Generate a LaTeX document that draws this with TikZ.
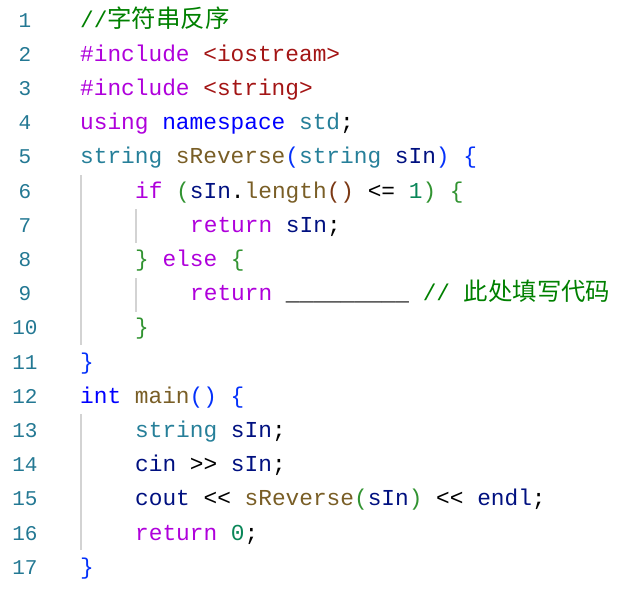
\documentclass[tikz,border=0pt]{standalone}
\usepackage{fontspec}
\setmainfont{Liberation Mono}
\newfontfamily\cjkf{Noto Sans CJK SC}
\definecolor{ckw}{HTML}{AF00DB}
\definecolor{cblue}{HTML}{0000FF}
\definecolor{ctyp}{HTML}{267F99}
\definecolor{cfn}{HTML}{795E26}
\definecolor{cvar}{HTML}{001080}
\definecolor{cstr}{HTML}{A31515}
\definecolor{ccom}{HTML}{008000}
\definecolor{cnum}{HTML}{098658}
\definecolor{cbA}{HTML}{0431FA}
\definecolor{cbB}{HTML}{319331}
\definecolor{cbC}{HTML}{7B3814}
\definecolor{cln}{HTML}{237893}
\definecolor{cguide}{HTML}{D3D3D3}
\newcommand\Kw[1]{\textcolor{ckw}{#1}}
\newcommand\Bl[1]{\textcolor{cblue}{#1}}
\newcommand\Ty[1]{\textcolor{ctyp}{#1}}
\newcommand\Fn[1]{\textcolor{cfn}{#1}}
\newcommand\Va[1]{\textcolor{cvar}{#1}}
\newcommand\St[1]{\textcolor{cstr}{#1}}
\newcommand\Cm[1]{\textcolor{ccom}{#1}}
\newcommand\Nm[1]{\textcolor{cnum}{#1}}
\newcommand\BA[1]{\textcolor{cbA}{#1}}
\newcommand\BB[1]{\textcolor{cbB}{#1}}
\newcommand\BC[1]{\textcolor{cbC}{#1}}
\newcommand\CJ[1]{{\cjkf\fontsize{24.4}{26}\selectfont #1}}
\begin{document}
\begin{tikzpicture}[x=1pt,y=-1pt,
  code/.style={anchor=base west,inner sep=0pt,font=\fontsize{22.8}{26}\selectfont},
  lnum/.style={anchor=base,inner sep=0pt,text=cln,font=\fontsize{21}{26}\selectfont},
  guide/.style={draw=cguide,line width=1.6pt}]
\useasboundingbox (0,0) rectangle (636,589);
\foreach \n in {1,...,17}{
  \node[lnum] (n\n) at (25,{27+34.2*(\n-1)}) {\n};
}
\def\Y#1{{27+34.2*(#1-1)}}
\node[code] (l1) at (80,\Y1) {\Cm{//\CJ{字符串反序}}};
\node[code] (l2) at (80,\Y2) {\Kw{\#include} \St{<iostream>}};
\node[code] (l3) at (80,\Y3) {\Kw{\#include} \St{<string>}};
\node[code] (l4) at (80,\Y4) {\Kw{using} \Bl{namespace} \Ty{std};};
\node[code] (l5) at (80,\Y5) {\Ty{string} \Fn{sReverse}\BA{(}\Ty{string} \Va{sIn}\BA{)} \BA{\{}};
\node[code] (l6) at (135,\Y6) {\Kw{if} \BB{(}\Va{sIn}.\Fn{length}\BC{()} <= \Nm{1}\BB{)} \BB{\{}};
\node[code] (l7) at (190,\Y7) {\Kw{return} \Va{sIn};};
\node[code] (l8) at (135,\Y8) {\BB{\}} \Kw{else} \BB{\{}};
\node[code] (l9) at (190,\Y9) {\Kw{return} \_\_\_\_\_\_\_\_\_ \Cm{// \CJ{此处填写代码}}};
\node[code] (l10) at (135,\Y{10}) {\BB{\}}};
\node[code] (l11) at (80,\Y{11}) {\BA{\}}};
\node[code] (l12) at (80,\Y{12}) {\Bl{int} \Fn{main}\BA{()} \BA{\{}};
\node[code] (l13) at (135,\Y{13}) {\Ty{string} \Va{sIn};};
\node[code] (l14) at (135,\Y{14}) {\Va{cin} >{}> \Va{sIn};};
\node[code] (l15) at (135,\Y{15}) {\Va{cout} <{}< \Fn{sReverse}\BB{(}\Va{sIn}\BB{)} <{}< \Va{endl};};
\node[code] (l16) at (135,\Y{16}) {\Kw{return} \Nm{0};};
\node[code] (l17) at (80,\Y{17}) {\BA{\}}};
\coordinate (g1a) at (81,175); \coordinate (g1b) at (81,345);
\coordinate (g2a) at (136,209); \coordinate (g2b) at (136,243);
\coordinate (g3a) at (136,278); \coordinate (g3b) at (136,312);
\coordinate (g4a) at (81,414); \coordinate (g4b) at (81,550);
\draw[guide] (g1a) -- (g1b);
\draw[guide] (g2a) -- (g2b);
\draw[guide] (g3a) -- (g3b);
\draw[guide] (g4a) -- (g4b);
\end{tikzpicture}
\end{document}
